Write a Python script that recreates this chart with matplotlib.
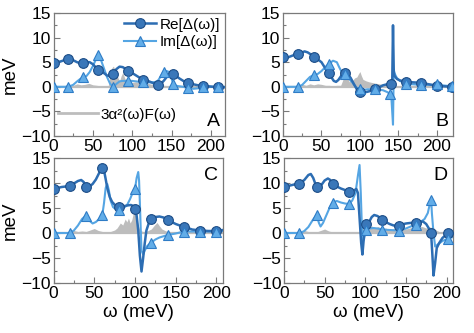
import matplotlib
matplotlib.use("Agg")
import matplotlib.pyplot as plt
from matplotlib.lines import Line2D
from matplotlib.ticker import MultipleLocator

plt.rcParams['font.family'] = ['Liberation Sans', 'DejaVu Sans']

# ---------------- Panel A ----------------
A_x = [0, 5, 10, 15, 19, 25, 30, 34, 38, 42, 46, 50, 54, 57, 60, 64, 68, 72, 76, 80, 84, 88, 92, 95,
       100, 105, 110, 114, 120, 126, 130, 133, 137, 140, 144, 147, 150, 152, 156, 160, 165, 171, 178,
       184, 190, 197, 203, 209, 218]
A_re = [4.8, 5.0, 5.2, 5.5, 5.6, 5.4, 5.0, 4.8, 4.85, 5.0, 5.0, 4.6, 3.9, 3.5, 3.2, 2.8, 2.3, 2.2, 2.6, 3.6,
        4.1, 4.0, 3.6, 3.2, 2.8, 2.3, 1.8, 1.4, 1.2, 0.8, 0.5, 0.4, 0.7, 1.2, 2.0, 2.5, 2.7, 2.6, 2.2, 1.7,
        1.2, 0.8, 0.5, 0.3, 0.2, 0.1, 0.0, -0.1, -0.1]
A_im = [0.0, 0.0, 0.0, 0.0, 0.0, 0.4, 1.1, 1.6, 1.9, 2.2, 3.0, 4.2, 5.6, 6.5, 5.6, 3.8, 2.0, 0.6, 0.0, 0.6,
        1.1, 1.2, 1.2, 1.2, 1.2, 1.1, 1.0, 1.0, 0.9, 0.9, 1.0, 1.3, 2.3, 3.1, 3.2, 3.0, 1.8, 0.6, 0.2, 0.1,
        0.0, -0.3, -0.4, -0.3, -0.1, 0.0, 0.0, 0.0, 0.0]
A_re_mx = [0, 19, 38, 57, 76, 95, 114, 133, 152, 171, 190, 209]
A_re_my = [4.8, 5.6, 4.85, 3.5, 2.6, 3.2, 1.4, 0.4, 2.6, 0.8, 0.2, -0.1]
A_im_mx = [0, 19, 38, 57, 76, 95, 114, 140, 152, 171, 190, 209]
A_im_my = [0.0, 0.0, 1.9, 6.5, 0.0, 1.2, 1.0, 3.1, 0.6, -0.3, -0.1, 0.0]
A_ph_x = [0, 10, 15, 20, 25, 30, 35, 40, 45, 50, 55, 60, 65, 70, 72, 74, 76, 78, 80, 82, 84, 86, 88, 90,
          92, 95, 100, 105, 110, 115, 120, 125, 130, 140, 150, 160, 170, 180, 190, 200, 218]
A_ph_y = [0, 0.1, 0.3, 0.5, 0.3, 0.6, 0.4, 0.5, 0.7, 0.4, 0.3, 0.2, 0.2, 0.3, 2.5, 3.8, 4.2, 3.6, 2.6, 1.8,
          1.2, 2.2, 2.9, 2.0, 1.2, 1.0, 0.9, 1.0, 0.8, 0.9, 0.7, 0.5, 0.4, 0.3, 0.2, 0.3, 0.2, 0.1, 0.05, 0, 0]

# ---------------- Panel B ----------------
B_re_x = [0, 5, 10, 15, 20, 25, 28, 32, 36, 40, 45, 50, 54, 57, 60, 63, 66, 69, 72, 76, 80, 84, 88, 92,
          96, 100, 105, 110, 115, 120, 125, 130, 135, 140, 142, 143, 144, 145, 148, 152, 160, 170, 180,
          190, 200, 210, 220]
B_re = [5.8, 5.9, 6.2, 6.5, 6.7, 7.0, 7.2, 7.0, 6.6, 6.1, 5.6, 5.0, 4.0, 3.4, 2.9, 1.9, 1.2, 1.0, 1.4, 2.3,
        2.8, 2.6, 1.8, 0.6, -0.5, -1.1, -1.2, -1.0, -0.8, -0.5, -0.1, 0.3, 0.5, 0.6, 1.0, 12.5, 3.0, 2.2,
        1.6, 1.3, 1.0, 0.9, 0.8, 0.5, 0.2, 0.1, 0.0]
B_im_x = [0, 10, 20, 25, 30, 35, 40, 45, 50, 55, 60, 65, 70, 73, 76, 80, 85, 90, 95, 100, 105, 110, 120,
          130, 136, 139, 141, 143, 144, 145, 146, 148, 152, 160, 170, 180, 200, 220]
B_im = [0.0, 0.0, 0.0, 0.4, 1.2, 2.0, 2.4, 2.6, 3.2, 4.0, 4.7, 5.3, 5.0, 4.0, 3.1, 2.6, 1.8, 0.9, -0.1,
        -0.5, -0.6, -0.5, -0.5, -0.7, -1.1, -1.5, -2.5, -7.7, 3.5, 2.8, 2.4, 1.8, 1.2, 0.6, 0.5, 0.4, 0.4, 0.1]
B_re_mx = [0, 20, 40, 60, 80, 100, 120, 140, 160, 180, 200, 220]
B_re_my = [6.0, 6.7, 6.1, 2.9, 2.8, -1.1, -0.5, 0.6, 1.0, 0.8, 0.2, 0.0]
B_im_mx = [0, 20, 40, 60, 80, 100, 120, 139, 160, 180, 200, 220]
B_im_my = [0.0, 0.0, 2.4, 4.7, 2.6, -0.5, -0.5, -1.5, 0.6, 0.4, 0.5, 0.1]
B_ph_x = [0, 10, 20, 25, 30, 35, 40, 45, 50, 55, 60, 65, 70, 75, 78, 80, 82, 84, 86, 88, 90, 93, 96, 98,
          100, 102, 104, 108, 112, 118, 125, 130, 140, 150, 160, 170, 180, 190, 200, 220]
B_ph_y = [0, 0.1, 0.2, 0.5, 0.3, 0.6, 0.4, 0.6, 0.5, 0.3, 0.3, 0.2, 0.3, 0.3, 1.5, 2.6, 3.0, 2.0, 1.0, 1.5,
          1.2, 1.8, 2.0, 2.6, 3.1, 2.2, 1.5, 1.2, 1.0, 0.8, 0.6, 0.5, 0.3, 0.2, 0.3, 0.2, 0.4, 0.3, 0.1, 0]

# ---------------- Panel C ----------------
C_re_x = [0, 5, 10, 15, 20, 25, 30, 34, 37, 40, 44, 48, 52, 56, 60, 62, 64, 66, 69, 72, 76, 80, 85, 90,
          95, 98, 100, 102, 104, 106, 108, 110, 112, 114, 117, 120, 125, 130, 135, 140, 145, 150, 155,
          160, 165, 170, 180, 190, 200, 208]
C_re = [8.8, 9.0, 9.2, 9.3, 9.5, 9.9, 10.4, 10.6, 10.2, 9.2, 9.3, 9.8, 10.7, 12.0, 13.1, 12.5, 10.8, 9.0,
        7.2, 6.2, 5.5, 5.3, 5.3, 5.5, 5.6, 5.4, 4.9, 3.5, 0.5, -4.5, -7.7, -5.0, -2.0, 0.5, 2.0, 2.8, 3.2,
        3.3, 3.1, 2.7, 2.2, 1.8, 1.5, 1.3, 1.0, 0.7, 0.5, 0.4, 0.4, 0.6]
C_im_x = [0, 10, 20, 25, 30, 35, 40, 44, 48, 52, 56, 60, 62, 64, 66, 68, 70, 73, 76, 80, 85, 90, 94, 97,
          100, 102, 104, 105, 106, 107, 108, 110, 112, 115, 120, 125, 130, 140, 150, 160, 170, 180, 190,
          200, 208]
C_im = [0.0, 0.0, 0.0, 0.5, 1.5, 2.8, 3.5, 2.5, 1.9, 2.2, 2.8, 3.7, 6.0, 9.0, 9.8, 8.5, 6.5, 5.2, 4.8, 4.7,
        4.9, 5.5, 6.8, 8.0, 8.8, 11.0, 12.2, 10.5, 6.0, 1.0, -3.5, -4.3, -3.5, -2.6, -1.9, -1.3, -0.9, -0.4,
        -0.1, 0.3, 0.3, 0.3, 0.3, 0.3, 0.4]
C_re_mx = [0, 20, 40, 60, 80, 100, 120, 140, 160, 180, 200]
C_re_my = [8.8, 9.5, 9.2, 13.1, 5.3, 4.9, 2.8, 2.7, 1.3, 0.5, 0.4]
C_im_mx = [0, 20, 40, 60, 80, 100, 120, 140, 160, 180, 200]
C_im_my = [0.0, 0.0, 3.5, 3.7, 4.7, 8.8, -1.9, -0.4, 0.3, 0.3, 0.3]
C_ph_x = [0, 10, 20, 25, 30, 35, 40, 45, 50, 55, 60, 65, 70, 75, 78, 82, 85, 88, 90, 92, 94, 96, 98, 100,
          102, 104, 106, 110, 115, 120, 124, 127, 130, 133, 138, 145, 150, 160, 170, 180, 185, 188, 195, 208]
C_ph_y = [0, 0.1, 0.2, 0.5, 0.3, 0.4, 0.3, 0.6, 0.9, 0.5, 0.3, 0.2, 0.3, 0.6, 1.0, 2.0, 1.6, 2.8, 2.2, 3.0,
          2.0, 2.6, 4.0, 4.7, 3.0, 1.5, 0.5, 0.3, 0.4, 0.8, 1.6, 2.1, 1.4, 0.8, 0.4, 0.2, 0.2, 0.2, 0.2, 0.4,
          0.9, 0.5, 0.2, 0]

# ---------------- Panel D ----------------
D_re_x = [0, 5, 10, 15, 19, 25, 30, 33, 36, 40, 43, 46, 50, 54, 57, 60, 65, 70, 75, 80, 85, 89, 91, 93,
          95, 96.5, 98, 101, 105, 108, 111, 115, 121, 125, 130, 135, 142, 145, 150, 155, 162, 166, 171,
          175, 178, 181, 182.5, 184, 186, 188, 191, 195, 202, 208]
D_re = [9.3, 9.4, 9.6, 9.8, 9.9, 10.6, 11.6, 11.8, 11.0, 9.2, 9.2, 9.6, 10.5, 10.9, 10.6, 9.9, 9.3, 8.9,
        8.6, 8.3, 8.4, 8.8, 8.0, 3.0, -2.0, -4.3, -1.5, 1.9, 2.3, 3.2, 3.6, 3.4, 2.7, 2.2, 1.8, 1.5, 1.5, 1.7,
        1.9, 2.0, 2.1, 2.2, 2.3, 1.8, 1.0, 0.0, -4.0, -8.5, -6.0, -3.0, -2.0, -1.0, 0.0, -0.4]
D_im_x = [0, 10, 20, 25, 30, 35, 40, 43, 45, 48, 52, 56, 60, 65, 70, 75, 80, 84, 88, 91, 93, 94.5, 96,
          97.5, 99, 101, 105, 110, 115, 121, 130, 142, 150, 162, 168, 173, 177, 180, 181, 182, 184, 186,
          190, 195, 202, 208]
D_im = [0.0, 0.0, 0.0, 0.4, 1.2, 2.5, 3.6, 2.0, 1.3, 2.0, 3.5, 5.0, 6.1, 6.4, 6.1, 5.9, 5.8, 6.5, 8.0,
        11.5, 13.6, 8.0, 0.5, -1.5, -0.5, 0.6, 0.9, 1.0, 0.9, 0.7, 0.6, 0.5, 0.9, 1.7, 2.2, 2.8, 4.0, 6.2,
        6.8, 4.0, 0.0, -2.7, -2.2, -1.6, -1.1, -0.8]
D_re_mx = [0, 19, 40, 60, 80, 101, 121, 142, 162, 181, 202]
D_re_my = [9.3, 9.9, 9.2, 9.9, 8.3, 1.9, 2.7, 1.5, 2.1, 0.0, 0.0]
D_im_mx = [0, 19, 40, 60, 80, 101, 121, 142, 162, 181, 202]
D_im_my = [0.0, 0.0, 3.6, 6.1, 5.8, 0.6, 0.7, 0.5, 1.7, 6.6, -1.1]
D_ph_x = [0, 10, 20, 25, 30, 35, 40, 45, 50, 55, 60, 70, 80, 90, 94, 96, 98, 100, 102, 105, 108, 112, 116,
          120, 125, 130, 135, 140, 145, 150, 155, 160, 165, 170, 175, 180, 184, 188, 192, 200, 208]
D_ph_y = [0, 0.1, 0.2, 0.5, 0.3, 0.3, 0.2, 0.5, 0.8, 0.4, 0.2, 0.2, 0.2, 0.2, 0.3, 1.5, 2.3, 2.5, 1.8, 1.2,
          1.4, 1.0, 1.3, 0.8, 1.0, 0.6, 0.8, 0.7, 0.9, 0.8, 1.0, 1.4, 1.2, 1.3, 1.0, 1.2, 1.0, 0.5, 0.2, 0, 0]

panels = [
    dict(letter='A', xmax=218, re=(A_x, A_re), im=(A_x, A_im), rem=(A_re_mx, A_re_my),
         imm=(A_im_mx, A_im_my), ph=(A_ph_x, A_ph_y), pos=[53.5, 13, 225, 136]),
    dict(letter='B', xmax=221, re=(B_re_x, B_re), im=(B_im_x, B_im), rem=(B_re_mx, B_re_my),
         imm=(B_im_mx, B_im_my), ph=(B_ph_x, B_ph_y), pos=[283, 13, 453, 136]),
    dict(letter='C', xmax=208, re=(C_re_x, C_re), im=(C_im_x, C_im), rem=(C_re_mx, C_re_my),
         imm=(C_im_mx, C_im_my), ph=(C_ph_x, C_ph_y), pos=[53.5, 158, 223, 283]),
    dict(letter='D', xmax=208, re=(D_re_x, D_re), im=(D_im_x, D_im), rem=(D_re_mx, D_re_my),
         imm=(D_im_mx, D_im_my), ph=(D_ph_x, D_ph_y), pos=[284, 158, 453, 283]),
]

W, H = 474, 333
RE_LINE = '#2c6db3'
RE_FACE = '#3a77b9'
RE_EDGE = '#1c4d87'
IM_LINE = '#55a5e3'
IM_FACE = '#62ade8'
IM_EDGE = '#2f7cc6'
PH = '#bdbdbd'
FRAME = '#7a7a7a'

fig = plt.figure(figsize=(W / 100, H / 100), dpi=100)

for i, p in enumerate(panels):
    x0, y0, x1, y1 = p['pos']
    ax = fig.add_axes([x0 / W, 1 - y1 / H, (x1 - x0) / W, (y1 - y0) / H])
    ax.fill_between(p['ph'][0], 0, p['ph'][1], color=PH, lw=0, zorder=1)
    ax.plot([0, p['xmax']], [0, 0], color=PH, lw=1.6, zorder=1)
    ax.plot(*p['im'], color=IM_LINE, lw=1.5, zorder=2)
    ax.plot(*p['re'], color=RE_LINE, lw=1.8, zorder=3)
    ax.plot(*p['rem'], ls='none', marker='o', ms=7, mfc=RE_FACE, mec=RE_EDGE, mew=0.8, zorder=4)
    ax.plot(*p['imm'], ls='none', marker='^', ms=7.5, mfc=IM_FACE, mec=IM_EDGE, mew=0.8, zorder=5)

    ax.set_xlim(0, p['xmax'])
    ax.set_ylim(-10, 15)
    ax.xaxis.set_major_locator(MultipleLocator(50))
    ax.xaxis.set_minor_locator(MultipleLocator(25))
    ax.yaxis.set_major_locator(MultipleLocator(5))
    ax.yaxis.set_minor_locator(MultipleLocator(2.5))
    ax.tick_params(which='both', direction='in', color=FRAME, labelsize=12.5, pad=2)
    ax.tick_params(which='major', length=4, width=0.8)
    ax.tick_params(which='minor', length=2.5, width=0.8)
    for s in ax.spines.values():
        s.set_color(FRAME)
        s.set_linewidth(0.9)

    if p['letter'] in ('A', 'B'):
        ax.text(0.97, 0.05, p['letter'], transform=ax.transAxes, ha='right', va='bottom', fontsize=14)
    else:
        ax.text(0.97, 0.93, p['letter'], transform=ax.transAxes, ha='right', va='top', fontsize=14)

    if i in (0, 2):
        ax.set_ylabel('meV', fontsize=13.5, labelpad=2)
    if i in (2, 3):
        ax.set_xlabel('ω (meV)', fontsize=13.5, labelpad=2)

    if i == 0:
        h_re = Line2D([], [], color=RE_LINE, lw=1.8, marker='o', ms=7, mfc=RE_FACE, mec=RE_EDGE, mew=0.8)
        h_im = Line2D([], [], color=IM_LINE, lw=1.5, marker='^', ms=7.5, mfc=IM_FACE, mec=IM_EDGE, mew=0.8)
        leg1 = ax.legend([h_re, h_im], ['Re[Δ(ω)]', 'Im[Δ(ω)]'], loc='upper right',
                         bbox_to_anchor=(1.0, 1.0), frameon=False, fontsize=11, borderaxespad=0.1,
                         borderpad=0.2, handlelength=2.1, handletextpad=0.25, labelspacing=0.25)
        ax.add_artist(leg1)
        h_ph = Line2D([], [], color=PH, lw=2)
        ax.legend([h_ph], ['3α²(ω)F(ω)'], loc='lower left', bbox_to_anchor=(0.0, 0.08),
                  frameon=False, fontsize=11, borderaxespad=0.1, borderpad=0.2,
                  handlelength=2.6, handletextpad=0.2)

fig.savefig('out.png', dpi=100)
